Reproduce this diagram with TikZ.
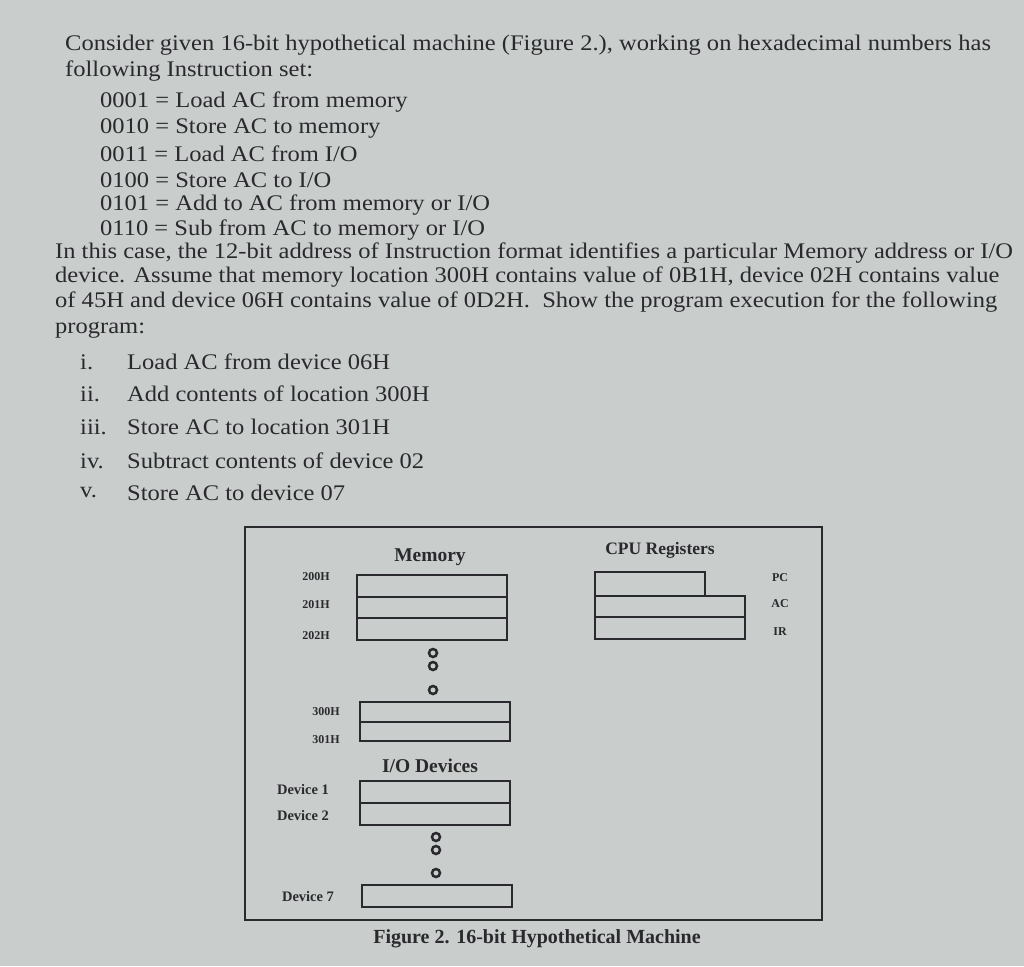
\documentclass[tikz,border=0pt]{standalone}
\usepackage{fontspec}
\setmainfont{Liberation Serif}
\newfontfamily\widefont[FakeStretch=1.1]{Liberation Serif}
\definecolor{paper}{HTML}{C9CDCB}
\definecolor{ink}{HTML}{2A2A2E}
\begin{document}
\begin{tikzpicture}[x=1pt,y=-1pt,
  txt/.style={anchor=west,inner sep=0pt,text=ink,font=\widefont\fontsize{22.3}{22.3}\selectfont},
  lbl/.style={inner sep=0pt,text=ink,font=\bfseries\fontsize{12}{12}\selectfont},
  dlbl/.style={inner sep=0pt,text=ink,font=\bfseries\fontsize{14.5}{14.5}\selectfont},
  ttl/.style={inner sep=0pt,text=ink,font=\bfseries\fontsize{19.5}{19.5}\selectfont},
  cell/.style={draw=ink,line width=2.5pt},
  dotc/.style={draw=ink,line width=2.5pt,circle,inner sep=0pt,minimum size=8pt}]
\fill[paper] (0,0) rectangle (1024,966);
\useasboundingbox (0,0) rectangle (1024,966);
\node[txt] (l1) at (65,45) {Consider given 16-bit hypothetical machine (Figure 2.), working on hexadecimal numbers has};
\node[txt] (l2) at (65,71) {following Instruction set:};
\node[txt] (i1) at (100,102) {0001 = Load AC from memory};
\node[txt] (i2) at (100,128) {0010 = Store AC to memory};
\node[txt] (i3) at (100,154) {0011 = Load AC from I/O};
\node[txt] (i4) at (100,180) {0100 = Store AC to I/O};
\node[txt] (i5) at (100,205) {0101 = Add to AC from memory or I/O};
\node[txt] (i6) at (100,230) {0110 = Sub from AC to memory or I/O};
\node[txt] (p1) at (55,253) {In this case, the 12-bit address of Instruction format identifies a particular Memory address or I/O};
\node[txt] (p2) at (55,277) {device. Assume that memory location 300H contains value of 0B1H, device 02H contains value};
\node[txt] (p3) at (55,302) {of 45H and device 06H contains value of 0D2H.\ \ Show the program execution for the following};
\node[txt] (p4) at (55,330) {program:};
\node[txt] (n1) at (80,362) {i.};
\node[txt] (n2) at (80,394) {ii.};
\node[txt] (n3) at (80,427) {iii.};
\node[txt] (n4) at (80,461) {iv.};
\node[txt] (n5) at (80,493) {v.};
\node[txt] (s1) at (127,362) {Load AC from device 06H};
\node[txt] (s2) at (127,394) {Add contents of location 300H};
\node[txt] (s3) at (127,427) {Store AC to location 301H};
\node[txt] (s4) at (127,461) {Subtract contents of device 02};
\node[txt] (s5) at (127,493) {Store AC to device 07};
% figure
\draw[ink,line width=2.5pt] (245,527) rectangle (822,920);
\node[ttl,font=\bfseries\fontsize{20}{20}\selectfont] (cap) at (537,939) {Figure 2. 16-bit Hypothetical Machine};
\node[ttl] (mem) at (430,557) {Memory};
\node[ttl,font=\bfseries\fontsize{17.5}{17.5}\selectfont] (cpu) at (660,550) {CPU Registers};
\draw[cell] (357,575) rectangle (507,597);
\draw[cell] (357,597) rectangle (507,618);
\draw[cell] (357,618) rectangle (507,640);
\node[lbl] at (316,577) {200H};
\node[lbl] at (316,605) {201H};
\node[lbl] at (316,636) {202H};
\node[dotc] at (433,653) {};
\node[dotc] at (433,666) {};
\node[dotc] at (433,690) {};
\draw[cell] (360,702) rectangle (510,722);
\draw[cell] (360,722) rectangle (510,741);
\node[lbl] at (326,712) {300H};
\node[lbl] at (326,740) {301H};
\node[ttl] (io) at (430,766) {I/O Devices};
\draw[cell] (360,781) rectangle (510,803);
\draw[cell] (360,803) rectangle (510,825);
\node[dlbl] at (303,790) {Device 1};
\node[dlbl] at (303,816) {Device 2};
\node[dotc] at (436,837) {};
\node[dotc] at (436,850) {};
\node[dotc] at (436,873) {};
\draw[cell] (362,885) rectangle (512,907);
\node[dlbl] at (308,897) {Device 7};
\draw[cell] (595,572) rectangle (705,596);
\draw[cell] (595,596) rectangle (745,617);
\draw[cell] (595,617) rectangle (745,639);
\node[lbl] at (780,578) {PC};
\node[lbl] at (780,604) {AC};
\node[lbl] at (780,632) {IR};
\end{tikzpicture}
\end{document}
